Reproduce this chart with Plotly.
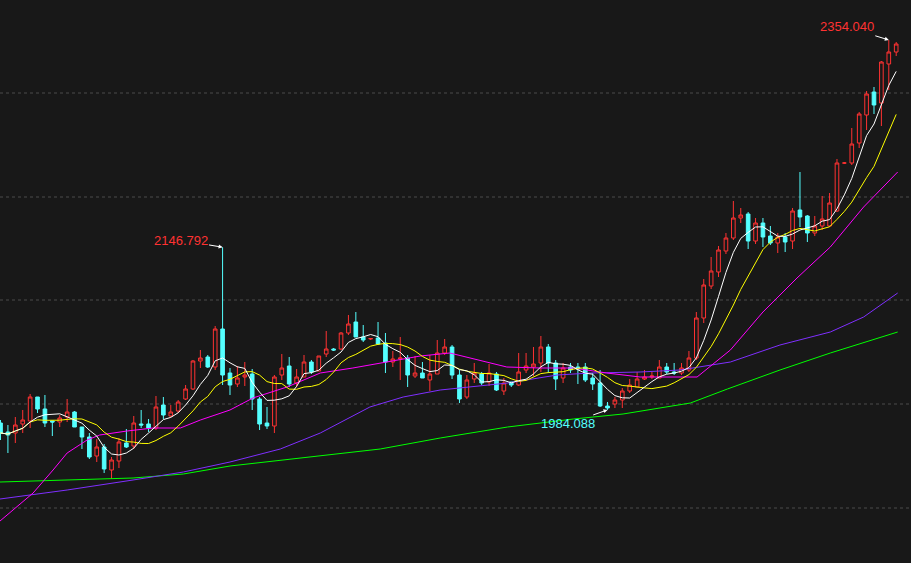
import plotly.graph_objects as go
import pandas as pd

opens = [1971,1962,1961,1970,1973,1997,1985,1973,1972,1977,1982,1967,1957,1938,1947,1924,1933,1951,1948,1970,
         1970,1966,1989,1978,1983,1995,2005,2033,2037,2027,2065,2021,2010,2017,2020,1995,1971,1968,2019,2028,
         2011,2017,2032,2023,2040,2045,2045,2061,2072,2057,2055,2056,2051,2032,2035,2036,2018,2021,2014,2020,
         2041,2047,2019,1997,2015,2020,2012,2020,2003,2012,2009,2024,2027,2031,2047,2031,2016,2027,2027,2027,
         2016,2011,1988,1990,1994,2003,2007,2015,2017,2016,2027,2022,2021,2024,2036,2076,2108,2122,2143,2156,
         2176,2180,2153,2171,2158,2151,2157,2153,2184,2178,2161,2168,2168,2183,2231,2231,2251,2279,2302,2291,
         2330,2342]
closes = [1961,1959,1969,1974,1997,1985,1971,1972,1976,1982,1967,1957,1937,1947,1925,1934,1952,1947,1971,1969,
          1966,1987,1979,1982,1992,2005,2033,2036,2027,2065,2019,2009,2016,2019,1995,1970,1968,2017,2026,2010,
          2017,2032,2022,2038,2045,2044,2061,2070,2057,2054,2055.5,2050,2032,2035,2036,2019,2021,2016,2020,2041,
          2047,2019,1995,2014,2021,2011,2021,2004,2011,2009,2022,2028,2030,2047,2031,2015,2026,2024,2025,2014,
          2010,1988,1986,1994,2003,2009,2015,2017,2018,2027,2022,2021,2026,2036,2076,2109,2123,2144,2156,2176,
          2179,2153,2171,2157,2151,2157,2152,2183,2177,2161,2168,2175,2191,2231,2231,2250,2280,2300,2289,2332,
          2342,2350]
highs = [1974,1969,1977,1984,2000,1997,1999,1973,1979,1995,1983,1967,1961,1955,1950,1937,1956,1965,1978,1984,
         1975,1998,1997,1989,1994,2009,2034,2044,2039,2068,2146.792,2026,2028,2032,2025,1997,1987,2019,2040,2037,
         2025,2039,2034,2038,2063,2046,2062,2079,2082,2069,2056,2072,2061,2043,2057,2039,2038,2032,2039,2054,
         2055,2049,2024,2019,2031,2022,2030,2022,2016,2012,2041,2041,2047,2058,2050,2034,2031,2031,2031,2031,
         2021,2024,1992,1997,2006,2015,2022,2024,2022,2034,2031,2031,2031,2043,2082,2115,2137,2148,2161,2193,
         2186,2182,2176,2176,2168,2161,2161,2186,2222,2179,2178,2198,2201,2235,2232,2266,2282,2303,2307,2333,
         2354.040,2352]
lows = [1954,1941,1951,1961,1966,1981,1967,1958,1967,1972,1967,1945,1935,1932,1921,1915,1926,1946,1945,1966,
        1962,1964,1975,1977,1981,1994,2004,2026,2026,2024,2009,1999,2007,2008,1984,1964,1965,1961,2014,2007,
        2007,2017,2020,2023,2037,2043,2044,2059,2057,2052,2054,2049,2021,2027,2014,2007,2016,2016,2003,2020,
        2039,2015,1991,1995,2011,2009,2008,2003,1999,2007,2008,2021,2018,2022,2021,2004,2011,2021,2010,2012,
        2004,1987,1984.088,1986,1986,2001,2007,2014,2015,2016,2020,2019,2019,2022,2034,2071,2105,2117,2140,2154,
        2171,2145,2150,2147,2149,2141,2142,2145,2167,2152,2158,2164,2167,2182,2230,2229,2246,2264,2280,2268,
        2304,2338]

ma20_x = [-0.07,4.4,7.1,9.0,11.7,13.4,17.1,20.6,24.3,27.0,31.0,34.1,38.7,43.2,47.6,52.2,56.7,60.7,63.9,68.4,
          72.9,77.4,81.9,86.4,91.8,94.1,98.6,103.0,107.6,112.1,116.6,121.2]
ma20_y = [1873,1901,1924,1941,1954,1959,1963,1966,1966,1974,1984,1996,2007,2021,2026,2032,2038,2041,2035,2027,
          2026,2026,2021,2017,2017,2017,2044,2082,2116,2147,2187,2222]
ma60_x = [-0.07,9.0,17.9,24.7,31.0,37.8,43.2,49.9,54.4,59.4,68.5,75.2,79.7,86.4,91.8,98.6,105.3,112.1,116.6,121.2]
ma60_y = [1895,1904,1914,1922,1932,1945,1961,1987,1997,2004,2011,2019,2021,2022,2024,2032,2049,2062,2077,2101]
ma120_x = [-0.07,9.0,17.9,24.7,31.0,51.3,59.4,68.5,77.4,84.1,93.2,98.2,105.3,112.1,116.6,121.2]
ma120_y = [1912,1914,1916,1920,1928,1945,1956,1967,1975,1980,1991,2005,2024,2041,2051,2062]

grid_levels = [2301, 2197, 2094, 1990, 1886]

idx = list(range(len(opens)))
cs = pd.Series(closes)
ma5 = cs.rolling(5, min_periods=1).mean()
ma10 = cs.rolling(10, min_periods=1).mean()

BG = "#181818"
RED = "#ff3232"
CYAN = "#54ffff"

fig = go.Figure()
for g in grid_levels:
    fig.add_shape(type="line", xref="paper", x0=0, x1=1, y0=g, y1=g,
                  line=dict(color="#4a4a4a", width=1, dash="dot"), layer="below")

fig.add_trace(go.Candlestick(x=idx, open=opens, high=highs, low=lows, close=closes,
    increasing=dict(line=dict(color=RED, width=1), fillcolor=BG),
    decreasing=dict(line=dict(color=CYAN, width=1), fillcolor=CYAN),
    whiskerwidth=0, showlegend=False))
fig.add_trace(go.Scatter(x=ma120_x, y=ma120_y, mode="lines", line=dict(color="#00ff00", width=1)))
fig.add_trace(go.Scatter(x=ma60_x, y=ma60_y, mode="lines", line=dict(color="#7f2fff", width=1)))
fig.add_trace(go.Scatter(x=ma20_x, y=ma20_y, mode="lines", line=dict(color="#ff00ff", width=1)))
fig.add_trace(go.Scatter(x=idx, y=ma10, mode="lines", line=dict(color="#ffff00", width=1)))
fig.add_trace(go.Scatter(x=idx, y=ma5, mode="lines", line=dict(color="#ffffff", width=1)))

font = dict(family="Liberation Sans, Arial", size=13)
fig.add_annotation(x=30, y=2146.792, text="2146.792", ax=-42, ay=-7, showarrow=True,
                   arrowhead=2, arrowsize=0.8, arrowwidth=1, arrowcolor="white", font=dict(color=RED, **font))
fig.add_annotation(x=82, y=1984.088, text="1984.088", ax=-40, ay=14, showarrow=True,
                   arrowhead=2, arrowsize=0.8, arrowwidth=1, arrowcolor="white", font=dict(color=CYAN, **font))
fig.add_annotation(x=120, y=2354.040, text="2354.040", ax=-42, ay=-13, showarrow=True,
                   arrowhead=2, arrowsize=0.8, arrowwidth=1, arrowcolor="white", font=dict(color=RED, **font))

fig.update_layout(width=911, height=563, margin=dict(l=0, r=0, t=0, b=0),
                  paper_bgcolor=BG, plot_bgcolor=BG, showlegend=False,
                  xaxis=dict(range=[-0.07, 123.0], visible=False, rangeslider=dict(visible=False)),
                  yaxis=dict(range=[1831, 2394], visible=False))
fig.write_html("out.html", config={"displayModeBar": False},
               post_script="document.body.style.margin='0';document.body.style.background='#181818';")
